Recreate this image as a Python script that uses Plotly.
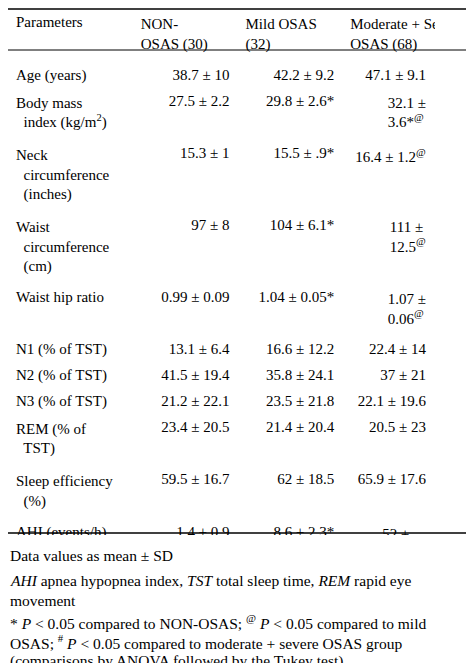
import plotly.graph_objects as go

headers = ["Parameters", "NON-<br>OSAS (30)", "Mild OSAS<br>(32)", "Moderate + Severe<br>OSAS (68)"]
parameters = [
    "Age (years)", "Body mass<br>  index (kg/m<sup>2</sup>)", "Neck<br>  circumference<br>  (inches)",
    "Waist<br>  circumference<br>  (cm)", "Waist hip ratio", "N1 (% of TST)", "N2 (% of TST)",
    "N3 (% of TST)", "REM (% of<br>  TST)", "Sleep efficiency<br>  (%)", "AHI (events/h)",
    "Epworth<br>  sleepiness<br>  scale",
]
non_osas = ["38.7 ± 10", "27.5 ± 2.2", "15.3 ± 1", "97 ± 8", "0.99 ± 0.09", "13.1 ± 6.4",
            "41.5 ± 19.4", "21.2 ± 22.1", "23.4 ± 20.5", "59.5 ± 16.7", "1.4 ± 0.9", "7.2 ± 3.2"]
mild_osas = ["42.2 ± 9.2", "29.8 ± 2.6*", "15.5 ± .9*", "104 ± 6.1*", "1.04 ± 0.05*", "16.6 ± 12.2",
             "35.8 ± 24.1", "23.5 ± 21.8", "21.4 ± 20.4", "62 ± 18.5", "8.6 ± 2.3*", "9.5 ± 5.5*"]
mod_sev = ["47.1 ± 9.1", "32.1 ± 3.6*<sup>@</sup>", "16.4 ± 1.2<sup>@</sup>", "111 ± 12.5<sup>@</sup>",
           "1.07 ± 0.06<sup>@</sup>", "22.4 ± 14", "37 ± 21", "22.1 ± 19.6", "20.5 ± 23",
           "65.9 ± 17.6", "52 ± 24.8*<sup>@</sup>", "14 ± 4.6*<sup>@</sup>"]

footer = [
    "Data values as mean ± SD",
    "<i>AHI</i> apnea hypopnea index, <i>TST</i> total sleep time, <i>REM</i> rapid eye",
    "movement",
    "* <i>P</i> < 0.05 compared to NON-OSAS; <sup>@</sup> <i>P</i> < 0.05 compared to mild",
    "OSAS; <sup>#</sup> <i>P</i> < 0.05 compared to moderate + severe OSAS group",
    "(comparisons by ANOVA followed by the Tukey test)",
]
footer_y = [547, 572, 592, 614, 634, 653]

serif = "Liberation Serif, Times New Roman, serif"
H = 663

fig = go.Figure(go.Table(
    columnwidth=[125, 105, 105, 92],
    header=dict(values=headers, align="left", height=20,
                font=dict(family=serif, size=15, color="black"),
                fill_color="white", line_color="white"),
    cells=dict(values=[parameters, non_osas, mild_osas, mod_sev],
               align=["left", "right", "right", "right"], height=26,
               font=dict(family=serif, size=15, color="black"),
               fill_color="white", line_color="white"),
    domain=dict(x=[0, 0.9], y=[1 - 527 / H, 1]),
))

# horizontal rules
for ypx, w in [(1, 1.5), (42, 1), (525, 1.5)]:
    fig.add_shape(type="line", xref="paper", yref="paper", x0=0, x1=1,
                  y0=1 - ypx / H, y1=1 - ypx / H, line=dict(color="black", width=w))

for txt, ypx in zip(footer, footer_y):
    fig.add_annotation(text=txt, xref="paper", yref="paper", x=0, y=1 - ypx / H,
                       xanchor="left", yanchor="middle", showarrow=False,
                       font=dict(family=serif, size=15.5, color="black"))

fig.update_layout(width=474, height=663, margin=dict(l=0, r=0, t=0, b=0),
                  paper_bgcolor="white", plot_bgcolor="white")
fig.write_html("out.html")
